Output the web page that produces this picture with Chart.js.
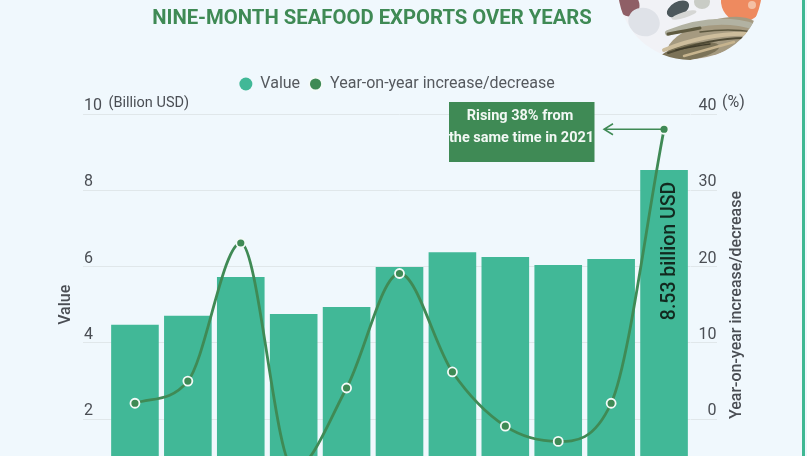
<!DOCTYPE html>
<html>
<head>
<meta charset="utf-8">
<script src="https://cdn.jsdelivr.net/npm/chart.js@4"></script>
<style>
  html, body { margin: 0; padding: 0; width: 807px; height: 456px; overflow: hidden; background: #f0f8fd; }
  canvas { position: absolute; left: 0; top: 0; }
  #photo { filter: blur(0.6px); }
  #edge { position: absolute; left: 802px; top: 0; width: 3px; height: 456px; background: #3fb893; }
</style>
</head>
<body>
<canvas id="photo" width="807" height="70"></canvas>
<canvas id="chart" width="807" height="560"></canvas>
<div id="edge"></div>
<script>
const categories = ['2012', '2013', '2014', '2015', '2016', '2017', '2018', '2019', '2020', '2021', '2022'];
const exportValues = [4.48, 4.71, 5.73, 4.76, 4.94, 5.99, 6.38, 6.25, 6.04, 6.2, 8.53];
const yoyChange = [2.1, 5, 23.1, -6.5, 4.1, 19.1, 6.2, -0.9, -2.9, 2.1, 38];
const valueTicks = [2, 4, 6, 8, 10];
const percentTicks = [0, 10, 20, 30, 40];

const GREEN = '#3f8a55';
const TEAL = '#41b897';
const TEXT = '#4a4e54';
const GRID = '#e0e7ea';

// rough stand-in for the seafood photo in the corner
function drawPhoto() {
  const c = document.getElementById('photo').getContext('2d');
  c.save();
  c.beginPath();
  c.arc(690, -12, 72, 0, Math.PI * 2);
  c.clip();
  c.fillStyle = '#f1f2f6';
  c.fillRect(610, 0, 160, 70);
  const blob = (x, y, rx, ry, rot, col) => {
    c.fillStyle = col;
    c.beginPath();
    c.ellipse(x, y, rx, ry, rot, 0, Math.PI * 2);
    c.fill();
  };
  blob(628, 4, 11, 13, -0.5, '#8f5f66');
  blob(644, 22, 16, 14, 0.4, '#dfe2e8');
  blob(702, 2, 8, 7, 0, '#c9ccc6');
  blob(678, 9, 12, 7, -0.5, '#4d585c');
  blob(684, 15, 13, 3, -0.3, '#d5d6d4');
  blob(742, 1, 21, 21, 0.3, '#ee8a5f');
  blob(752, 5, 4, 4, 0, '#f4c0a4');
  blob(712, 38, 46, 17, -0.3, '#a59a80');
  blob(690, 52, 30, 8, -0.2, '#7c7358');
  const band = (pts, col, w) => {
    c.strokeStyle = col;
    c.lineWidth = w;
    c.lineCap = 'round';
    c.beginPath();
    c.moveTo(pts[0], pts[1]);
    c.quadraticCurveTo(pts[2], pts[3], pts[4], pts[5]);
    c.stroke();
  };
  band([668, 33, 715, 14, 756, 27], '#b2b2a2', 6);
  band([668, 34, 690, 30, 700, 28], '#5f5a40', 3);
  band([700, 32, 730, 28, 752, 32], '#5b563e', 1.5);
  band([664, 50, 710, 32, 752, 34], '#cdbd9c', 4);
  band([668, 53, 715, 37, 748, 38], '#4f4a35', 2);
  band([684, 56, 720, 46, 734, 42], '#c7b48e', 2.5);
  band([676, 50, 695, 46, 710, 44], '#3f3b2a', 1.5);
  c.restore();
}
drawPhoto();

// extra text the chart has no option for: title, units, rotated labels, callout
const extras = {
  id: 'extras',
  beforeInit(chart) {
    const legend = chart.legend;
    // room between the legend and the plot
    const fit = legend.fit;
    legend.fit = function () { fit.call(this); this.height += 12; };
    // the legend sits a little right of the padded centre
    const draw = legend.draw;
    legend.draw = function () {
      this.ctx.save();
      this.ctx.translate(10.5, 0);
      draw.call(this);
      this.ctx.restore();
    };
  },
  afterDatasetsDraw(chart) {
    const { ctx, scales } = chart;
    const last = chart.getDatasetMeta(1).data[10];
    ctx.save();

    ctx.textBaseline = 'middle';
    ctx.textAlign = 'center';
    ctx.fillStyle = GREEN;
    ctx.font = 'bold 20.3px Roboto';
    ctx.fillText('NINE-MONTH SEAFOOD EXPORTS OVER YEARS', 372, 19);

    ctx.fillStyle = TEXT;
    ctx.textAlign = 'left';
    ctx.font = '14.5px Roboto';
    ctx.fillText('(Billion USD)', 108.5, 103);
    ctx.font = '16px Roboto';
    ctx.fillText('(%)', 722, 103);

    // callout box
    ctx.fillStyle = GREEN;
    ctx.fillRect(449, 102, 145.5, 60);
    ctx.fillStyle = '#f2f8f4';
    ctx.textAlign = 'center';
    ctx.font = 'bold 14.5px Roboto';
    ctx.fillText('Rising 38% from', 520, 116);
    ctx.fillText('the same time in 2021', 521.5, 138);

    // arrow from the last point to the box
    ctx.strokeStyle = GREEN;
    ctx.lineWidth = 1.5;
    ctx.beginPath();
    ctx.moveTo(last.x, last.y);
    ctx.lineTo(604, last.y);
    ctx.moveTo(613, last.y - 5.5);
    ctx.lineTo(604, last.y);
    ctx.lineTo(613, last.y + 5.5);
    ctx.stroke();

    // rotated labels
    ctx.save();
    ctx.translate(scales.x.getPixelForValue(10) + 6, 251);
    ctx.rotate(-Math.PI / 2);
    ctx.fillStyle = '#12291f';
    ctx.font = '500 19.5px Roboto';
    ctx.fillText('8.53 billion USD', 0, 0);
    ctx.restore();

    ctx.save();
    ctx.translate(737, 305);
    ctx.rotate(-Math.PI / 2);
    ctx.fillStyle = TEXT;
    ctx.font = '500 16px Roboto';
    ctx.fillText('Year-on-year increase/decrease', 0, 0);
    ctx.restore();

    ctx.restore();
  }
};

new Chart(document.getElementById('chart'), {
  type: 'bar',
  data: {
    labels: categories,
    datasets: [
      {
        label: 'Value',
        data: exportValues,
        backgroundColor: TEAL,
        barPercentage: 0.9,
        categoryPercentage: 1,
        yAxisID: 'y',
        order: 2
      },
      {
        type: 'line',
        label: 'Year-on-year increase/decrease',
        data: yoyChange,
        yAxisID: 'y1',
        borderColor: GREEN,
        backgroundColor: GREEN,
        borderWidth: 2.8,
        cubicInterpolationMode: 'monotone',
        pointRadius: 4.5,
        pointBorderColor: '#f4faf8',
        pointBorderWidth: 1.8,
        pointBackgroundColor: GREEN,
        clip: false,
        order: 1
      }
    ]
  },
  plugins: [extras],
  options: {
    responsive: false,
    devicePixelRatio: 1,
    animation: false,
    layout: { padding: { top: 67, left: 56, right: 90, bottom: 64.4 } },
    plugins: {
      tooltip: { enabled: false },
      legend: {
        position: 'top',
        labels: {
          usePointStyle: true,
          pointStyleWidth: 13,
          boxHeight: 9.2,
          padding: 9,
          color: '#55595e',
          font: { family: 'Roboto', size: 16 },
          sort: (a, b) => a.datasetIndex - b.datasetIndex
        }
      }
    },
    scales: {
      x: { display: false },
      y: {
        position: 'left',
        min: 0,
        max: 10,
        afterBuildTicks(axis) { axis.ticks = valueTicks.map(v => ({ value: v })); },
        afterFit(axis) { axis.width = 52.5; },
        grid: { color: GRID, tickLength: 25.5 },
        border: { display: false },
        title: {
          display: true,
          text: 'Value',
          color: TEXT,
          padding: { top: 0, bottom: 10 },
          font: { family: 'Roboto', size: 16, weight: '500' }
        },
        ticks: {
          mirror: true,
          padding: -24.5,
          align: 'end',
          color: TEXT,
          font: { family: 'Roboto', size: 16 }
        }
      },
      y1: {
        position: 'right',
        min: -10,
        max: 40,
        afterBuildTicks(axis) { axis.ticks = percentTicks.map(v => ({ value: v })); },
        afterFit(axis) { axis.width = 26.5; },
        grid: { color: GRID, tickLength: 26.5, drawOnChartArea: false },
        border: { display: false },
        ticks: {
          mirror: true,
          padding: 26,
          align: 'end',
          color: TEXT,
          font: { family: 'Roboto', size: 16 }
        }
      }
    }
  }
});
</script>
</body>
</html>
